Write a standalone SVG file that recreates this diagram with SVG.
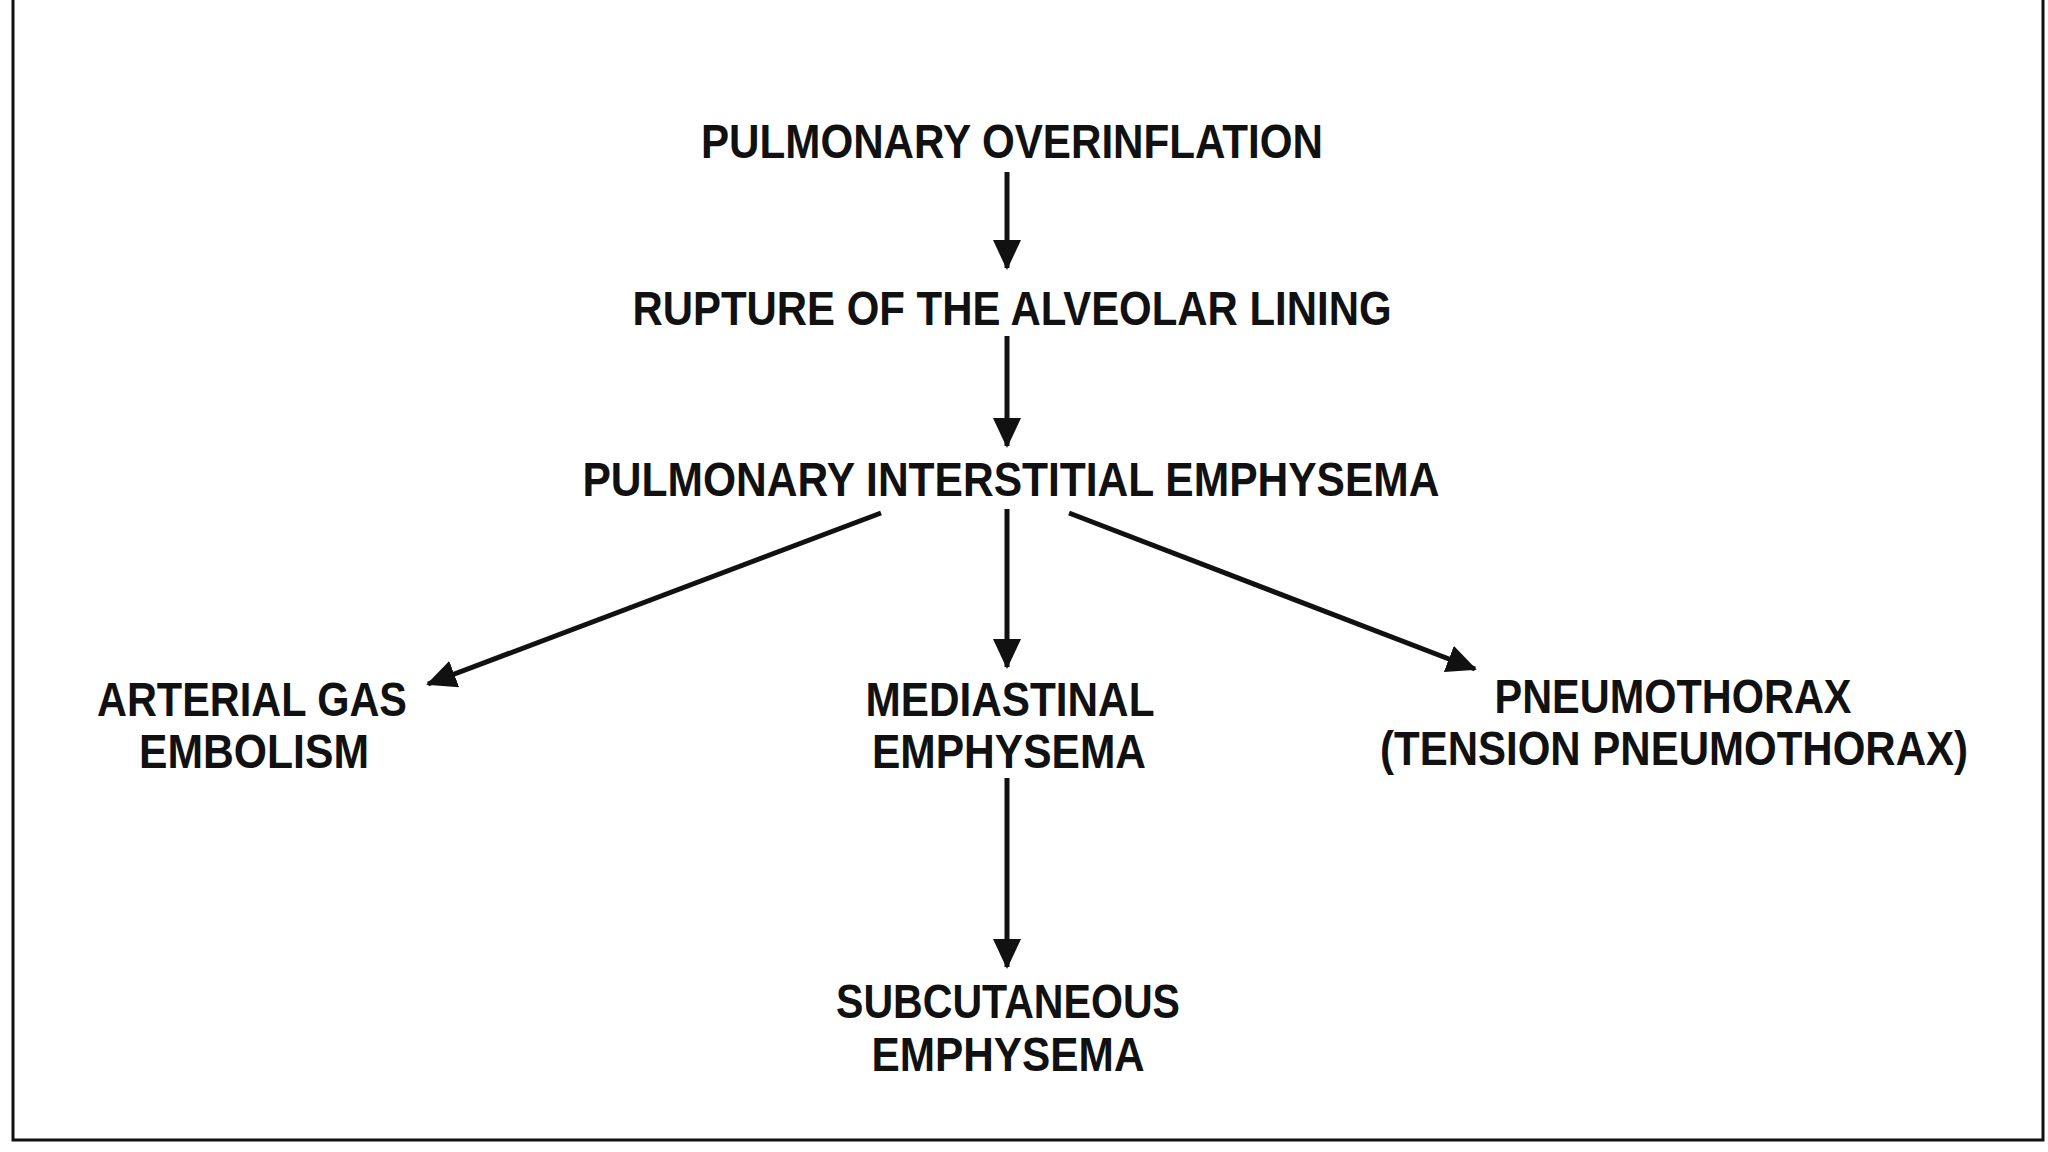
<svg xmlns="http://www.w3.org/2000/svg" width="2048" height="1152" viewBox="0 0 2048 1152">
<style>
text{font-family:"Liberation Sans",Arial,sans-serif;font-weight:bold;font-size:49px;fill:#111;text-anchor:middle}
.c{stroke:#111;stroke-width:5;fill:none;marker-end:url(#a)}
</style>
<defs><marker id="a" markerUnits="userSpaceOnUse" markerWidth="30" markerHeight="28" refX="28" refY="14" orient="auto"><path d="M0,0 L30,14 L0,28 Z" fill="#111"/></marker></defs>
<rect width="2048" height="1152" fill="#fff"/>
<path d="M13,-5 V1140 H2043 V-5" fill="none" stroke="#111" stroke-width="3"/>
<g transform="translate(-5,-3)">
<g id="connectors">
<line class="c" x1="1012" y1="175" x2="1012" y2="271"/>
<line class="c" x1="1012" y1="339" x2="1012" y2="449"/>
<line class="c" x1="886" y1="516" x2="433" y2="687"/>
<line class="c" x1="1012" y1="512" x2="1012" y2="670"/>
<line class="c" x1="1074" y1="516" x2="1480" y2="672"/>
<line class="c" x1="1012" y1="781" x2="1012" y2="970"/>
</g>
<g id="n1"><text x="1017" y="161" textLength="622" lengthAdjust="spacingAndGlyphs">PULMONARY OVERINFLATION</text></g>
<g id="n2"><text x="1017" y="328" textLength="759" lengthAdjust="spacingAndGlyphs">RUPTURE OF THE ALVEOLAR LINING</text></g>
<g id="n3"><text x="1016" y="499" textLength="857" lengthAdjust="spacingAndGlyphs">PULMONARY INTERSTITIAL EMPHYSEMA</text></g>
<g id="n4"><text x="257" y="719" textLength="310" lengthAdjust="spacingAndGlyphs">ARTERIAL GAS</text><text x="259" y="771" textLength="230" lengthAdjust="spacingAndGlyphs">EMBOLISM</text></g>
<g id="n5"><text x="1015" y="719" textLength="289" lengthAdjust="spacingAndGlyphs">MEDIASTINAL</text><text x="1014" y="771" textLength="274" lengthAdjust="spacingAndGlyphs">EMPHYSEMA</text></g>
<g id="n6"><text x="1678" y="716" textLength="357" lengthAdjust="spacingAndGlyphs">PNEUMOTHORAX</text><text x="1679" y="768" textLength="588" lengthAdjust="spacingAndGlyphs">(TENSION PNEUMOTHORAX)</text></g>
<g id="n7"><text x="1013" y="1021" textLength="344" lengthAdjust="spacingAndGlyphs">SUBCUTANEOUS</text><text x="1013" y="1074" textLength="273" lengthAdjust="spacingAndGlyphs">EMPHYSEMA</text></g>
</g>
</svg>
